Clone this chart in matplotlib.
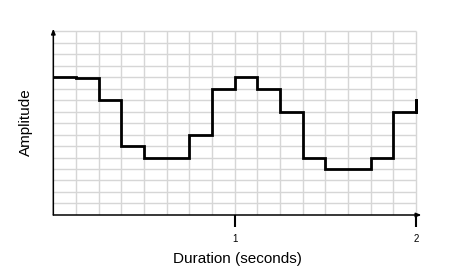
import matplotlib
matplotlib.use("Agg")
import matplotlib.pyplot as plt
import numpy as np

plt.rcParams['font.family'] = ['Liberation Sans', 'DejaVu Sans']

# Sample times (seconds) and sampled amplitude levels (grid units)
times = [0, 0.125, 0.25, 0.375, 0.5, 0.625, 0.75, 0.875, 1.0,
         1.125, 1.25, 1.375, 1.5, 1.625, 1.75, 1.875, 2.0]
levels = [12, 11.9, 10, 6, 5, 5, 7, 11, 12,
          11, 9, 5, 4, 4, 5, 9, 10]
x_ticks = [1, 2]
x_tick_labels = ["1", "2"]

fig = plt.figure(figsize=(4.74, 2.79), dpi=100)
ax = fig.add_axes([0.1125, 0.2294, 0.7766, 0.6677])
ax.set_xlim(0, 2.03)
ax.set_ylim(0, 16.2)

# grid
grid_x = np.arange(0, 2.0001, 0.125)
grid_y = np.arange(1, 16.0001, 1)
ax.vlines(grid_x[1:], 0, 16, color='#d6d6d6', lw=1.0, zorder=1)
ax.hlines(grid_y, 0, 2.0, color='#d6d6d6', lw=1.0, zorder=1)

# step signal
ax.step(times, levels, where='post', color='black', lw=2.0, zorder=3,
        solid_joinstyle='miter')
ax.plot([times[-1], times[-1]], [levels[-2], levels[-1]], color='black', lw=2.0, zorder=3)

# axes with arrows
for s in ax.spines.values():
    s.set_visible(False)
ax.annotate('', xy=(0, 16.2), xytext=(0, 0),
            arrowprops=dict(arrowstyle='-|>,head_length=0.3,head_width=0.12', color='black', lw=1.1,
                            shrinkA=0, shrinkB=0), annotation_clip=False)
ax.annotate('', xy=(2.03, 0), xytext=(0, 0),
            arrowprops=dict(arrowstyle='-|>,head_length=0.3,head_width=0.12', color='black', lw=1.1,
                            shrinkA=0, shrinkB=0), annotation_clip=False)

ax.set_xticks(x_ticks)
ax.set_xticklabels(x_tick_labels, fontsize=7)
ax.set_yticks([])
ax.tick_params(axis='x', length=8.5, width=1.5, direction='out', pad=5, color='black')

ax.set_xlabel('Duration (seconds)', fontsize=11, labelpad=6)
ax.set_ylabel('Amplitude', fontsize=11, labelpad=15)

fig.savefig('out.png', dpi=100)
